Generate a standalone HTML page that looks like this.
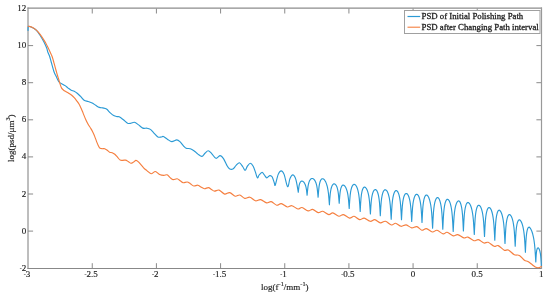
<!DOCTYPE html>
<html><head><meta charset="utf-8"><style>
html,body{margin:0;padding:0;background:#fff;}
body{width:550px;height:297px;overflow:hidden;}
svg{display:block;}
text{font-family:"Liberation Serif",serif;font-size:9px;fill:#222;stroke:#222;stroke-width:0.15px;}
</style></head><body>
<svg width="550" height="297" viewBox="0 0 550 297">
<rect width="550" height="297" fill="#fff"/>

<g stroke="#8a8a8a" stroke-width="1" fill="none">
<line x1="92.26" y1="268.2" x2="92.26" y2="263.2"/>
<line x1="92.26" y1="8.5" x2="92.26" y2="13.5"/>
<line x1="156.42" y1="268.2" x2="156.42" y2="263.2"/>
<line x1="156.42" y1="8.5" x2="156.42" y2="13.5"/>
<line x1="220.59" y1="268.2" x2="220.59" y2="263.2"/>
<line x1="220.59" y1="8.5" x2="220.59" y2="13.5"/>
<line x1="284.75" y1="268.2" x2="284.75" y2="263.2"/>
<line x1="284.75" y1="8.5" x2="284.75" y2="13.5"/>
<line x1="348.91" y1="268.2" x2="348.91" y2="263.2"/>
<line x1="348.91" y1="8.5" x2="348.91" y2="13.5"/>
<line x1="413.07" y1="268.2" x2="413.07" y2="263.2"/>
<line x1="413.07" y1="8.5" x2="413.07" y2="13.5"/>
<line x1="477.24" y1="268.2" x2="477.24" y2="263.2"/>
<line x1="477.24" y1="8.5" x2="477.24" y2="13.5"/>
<line x1="28.1" y1="45.6" x2="33.1" y2="45.6"/>
<line x1="541.4" y1="45.6" x2="536.4" y2="45.6"/>
<line x1="28.1" y1="82.7" x2="33.1" y2="82.7"/>
<line x1="541.4" y1="82.7" x2="536.4" y2="82.7"/>
<line x1="28.1" y1="119.8" x2="33.1" y2="119.8"/>
<line x1="541.4" y1="119.8" x2="536.4" y2="119.8"/>
<line x1="28.1" y1="156.9" x2="33.1" y2="156.9"/>
<line x1="541.4" y1="156.9" x2="536.4" y2="156.9"/>
<line x1="28.1" y1="194.0" x2="33.1" y2="194.0"/>
<line x1="541.4" y1="194.0" x2="536.4" y2="194.0"/>
<line x1="28.1" y1="231.1" x2="33.1" y2="231.1"/>
<line x1="541.4" y1="231.1" x2="536.4" y2="231.1"/>
</g>
<line x1="28" y1="7.5" x2="28" y2="269" stroke="#7c7c7c" stroke-width="1"/>
<line x1="27.5" y1="268.5" x2="542" y2="268.5" stroke="#888" stroke-width="1"/>
<line x1="27.5" y1="8.1" x2="542" y2="8.1" stroke="#8c8c8c" stroke-width="1.3"/>
<line x1="541.5" y1="7.5" x2="541.5" y2="269" stroke="#999" stroke-width="1.2"/>
<g fill="none" stroke-linejoin="round" stroke-linecap="round">
<path d="M28.00 30.50 C28.07 29.83 27.88 27.08 28.40 26.50 C28.92 25.92 30.15 26.65 31.10 27.00 C32.05 27.35 33.10 27.92 34.10 28.60 C35.10 29.28 36.17 30.08 37.10 31.10 C38.03 32.12 38.83 33.38 39.70 34.70 C40.57 36.02 41.45 37.50 42.30 39.00 C43.15 40.50 44.05 42.15 44.80 43.70 C45.55 45.25 46.30 46.92 46.80 48.30 C47.30 49.68 47.35 50.72 47.80 52.00 C48.25 53.28 48.93 54.33 49.50 56.00 C50.07 57.67 50.43 59.33 51.20 62.00 C51.97 64.67 53.30 69.67 54.10 72.00 C54.90 74.33 55.42 74.77 56.00 76.00 C56.58 77.23 57.02 78.33 57.60 79.40 C58.18 80.47 58.75 81.65 59.50 82.40 C60.25 83.15 61.17 83.37 62.10 83.90 C63.03 84.43 64.08 84.90 65.10 85.60 C66.12 86.30 67.18 87.33 68.20 88.10 C69.22 88.87 70.20 89.68 71.20 90.20 C72.20 90.72 73.20 90.70 74.20 91.20 C75.20 91.70 76.18 92.37 77.20 93.20 C78.22 94.03 79.15 95.02 80.30 96.20 C81.45 97.38 82.80 99.42 84.10 100.30 C85.40 101.18 86.75 101.05 88.10 101.50 C89.45 101.95 90.93 102.37 92.20 103.00 C93.47 103.63 94.52 104.57 95.70 105.30 C96.88 106.03 98.12 106.97 99.30 107.40 C100.48 107.83 101.60 107.63 102.80 107.90 C104.00 108.17 105.25 108.17 106.50 109.00 C107.75 109.83 109.10 111.80 110.30 112.90 C111.50 114.00 112.58 114.98 113.70 115.60 C114.82 116.22 116.08 116.40 117.00 116.60 C117.92 116.80 118.13 116.27 119.20 116.80 C120.27 117.33 122.00 118.73 123.40 119.80 C124.80 120.87 126.33 122.63 127.60 123.20 C128.87 123.77 129.87 123.35 131.00 123.20 C132.13 123.05 133.13 122.02 134.40 122.30 C135.67 122.58 137.20 123.93 138.60 124.90 C140.00 125.87 141.40 127.55 142.80 128.10 C144.20 128.65 145.73 127.98 147.00 128.20 C148.27 128.42 149.28 128.63 150.40 129.40 C151.52 130.17 152.45 131.53 153.70 132.80 C154.95 134.07 156.63 136.30 157.90 137.00 C159.17 137.70 160.38 137.08 161.30 137.00 C162.22 136.92 162.35 136.10 163.40 136.50 C164.45 136.90 166.20 138.55 167.60 139.40 C169.00 140.25 170.27 141.52 171.80 141.60 C173.33 141.68 175.40 139.85 176.80 139.90 C178.20 139.95 179.07 140.87 180.20 141.90 C181.33 142.93 182.62 145.03 183.60 146.10 C184.58 147.17 184.98 147.87 186.10 148.30 C187.22 148.73 188.90 148.22 190.30 148.70 C191.70 149.18 193.23 150.30 194.50 151.20 C195.77 152.10 196.67 153.23 197.90 154.10 C199.13 154.97 200.72 156.53 201.90 156.40 C203.08 156.27 203.95 154.23 205.00 153.30 C206.05 152.37 207.08 150.75 208.20 150.80 C209.32 150.85 210.42 152.35 211.70 153.60 C212.98 154.85 214.48 157.97 215.90 158.30 C217.32 158.63 218.93 155.55 220.20 155.60 C221.47 155.65 222.38 156.97 223.50 158.60 C224.62 160.23 225.92 163.72 226.90 165.40 C227.88 167.08 228.42 168.08 229.40 168.70 C230.38 169.32 231.68 169.65 232.80 169.10 C233.92 168.55 234.98 166.45 236.10 165.40 C237.22 164.35 238.37 162.53 239.50 162.80 C240.63 163.07 241.95 165.75 242.90 167.00 C243.85 168.25 244.45 170.43 245.20 170.30 C245.95 170.17 246.55 167.38 247.40 166.20 C248.25 165.02 249.33 163.20 250.30 163.20 C251.27 163.20 252.32 164.63 253.20 166.20 C254.08 167.77 254.90 170.65 255.60 172.60 C256.30 174.55 256.82 177.50 257.40 177.90 C257.98 178.30 258.32 175.92 259.10 175.00 C259.88 174.08 261.22 172.40 262.10 172.40 C262.98 172.40 263.62 174.08 264.40 175.00 C265.18 175.92 265.92 177.80 266.80 177.90 C267.68 178.00 268.82 175.78 269.70 175.60 C270.58 175.42 271.32 175.53 272.10 176.80 C272.88 178.07 273.87 181.83 274.40 183.20 C274.93 184.57 274.67 186.47 275.30 185.00 C275.93 183.53 277.22 176.77 278.20 174.40 C279.18 172.03 280.22 170.80 281.20 170.80 C282.18 170.80 283.03 171.75 284.10 174.40 C285.17 177.05 286.62 186.02 287.60 186.70 C288.58 187.38 289.12 180.47 290.00 178.50 C290.88 176.53 291.92 174.72 292.90 174.90 C293.88 175.08 295.00 176.70 295.90 179.60 C296.80 182.50 297.90 190.18 298.30 192.30 L298.67 188.67 L299.03 185.96 L299.40 184.33 L299.77 183.24 L300.13 182.47 L300.50 181.92 L300.87 181.54 L301.23 181.29 L301.60 181.15 L301.97 181.12 L302.33 181.18 L302.70 181.33 L303.07 181.54 L303.43 181.84 L303.80 182.21 L304.17 182.67 L304.53 183.23 L304.90 183.92 L305.27 184.76 L305.63 185.81 L306.00 187.17 L306.37 189.05 L306.73 191.91 L307.10 195.30 L307.56 190.31 L308.02 186.41 L308.48 184.00 L308.93 182.34 L309.39 181.13 L309.85 180.23 L310.31 179.56 L310.77 179.07 L311.23 178.74 L311.68 178.54 L312.14 178.47 L312.60 178.52 L313.06 178.68 L313.52 178.96 L313.98 179.36 L314.43 179.88 L314.89 180.56 L315.35 181.42 L315.81 182.50 L316.27 183.89 L316.73 185.72 L317.18 188.30 L317.64 192.34 L318.10 197.30 L318.57 191.20 L319.04 186.58 L319.51 183.82 L319.98 181.99 L320.45 180.73 L320.93 179.84 L321.40 179.25 L321.87 178.88 L322.34 178.71 L322.81 178.71 L323.28 178.87 L323.75 179.18 L324.22 179.63 L324.69 180.21 L325.16 180.94 L325.63 181.82 L326.10 182.88 L326.57 184.16 L327.05 185.72 L327.52 187.64 L327.99 190.12 L328.46 193.49 L328.93 198.64 L329.40 204.80 L329.81 198.58 L330.22 193.92 L330.62 191.02 L331.03 188.99 L331.44 187.49 L331.85 186.34 L332.26 185.47 L332.67 184.81 L333.07 184.35 L333.48 184.04 L333.89 183.90 L334.30 183.89 L334.71 184.00 L335.12 184.22 L335.52 184.57 L335.93 185.06 L336.34 185.71 L336.75 186.56 L337.16 187.66 L337.57 189.10 L337.97 191.04 L338.38 193.80 L338.79 198.16 L339.20 203.30 L339.62 197.28 L340.03 192.84 L340.45 190.18 L340.87 188.41 L341.28 187.16 L341.70 186.28 L342.12 185.67 L342.53 185.28 L342.95 185.09 L343.37 185.06 L343.78 185.19 L344.20 185.46 L344.62 185.84 L345.03 186.35 L345.45 186.98 L345.87 187.76 L346.28 188.70 L346.70 189.84 L347.12 191.23 L347.53 192.97 L347.95 195.22 L348.37 198.30 L348.78 203.00 L349.20 208.50 L349.66 201.21 L350.12 195.59 L350.57 192.14 L351.03 189.76 L351.49 188.04 L351.95 186.76 L352.41 185.82 L352.87 185.14 L353.32 184.68 L353.78 184.43 L354.24 184.36 L354.70 184.47 L355.16 184.73 L355.62 185.15 L356.07 185.75 L356.53 186.52 L356.99 187.51 L357.45 188.76 L357.91 190.32 L358.37 192.32 L358.82 194.95 L359.28 198.65 L359.74 204.41 L360.20 211.40 L360.62 203.44 L361.05 197.72 L361.47 194.26 L361.90 191.91 L362.32 190.23 L362.75 189.01 L363.18 188.13 L363.60 187.54 L364.02 187.20 L364.45 187.07 L364.88 187.16 L365.30 187.38 L365.72 187.75 L366.15 188.25 L366.57 188.91 L367.00 189.75 L367.42 190.78 L367.85 192.06 L368.27 193.65 L368.70 195.66 L369.12 198.29 L369.55 201.95 L369.97 207.57 L370.40 214.00 L370.81 207.23 L371.22 201.71 L371.64 198.24 L372.05 195.82 L372.46 194.03 L372.88 192.67 L373.29 191.63 L373.70 190.84 L374.11 190.27 L374.52 189.88 L374.94 189.65 L375.35 189.59 L375.76 189.68 L376.18 189.94 L376.59 190.39 L377.00 191.03 L377.41 191.90 L377.82 193.02 L378.24 194.48 L378.65 196.37 L379.06 198.91 L379.48 202.51 L379.89 208.25 L380.30 215.60 L380.75 207.81 L381.21 201.76 L381.66 198.05 L382.12 195.50 L382.57 193.65 L383.02 192.28 L383.48 191.27 L383.93 190.55 L384.39 190.07 L384.84 189.81 L385.30 189.74 L385.75 189.86 L386.20 190.15 L386.66 190.62 L387.11 191.27 L387.57 192.13 L388.02 193.22 L388.48 194.58 L388.93 196.29 L389.38 198.47 L389.84 201.35 L390.29 205.37 L390.75 211.64 L391.20 219.30 L391.63 211.00 L392.06 204.53 L392.49 200.49 L392.92 197.68 L393.35 195.60 L393.77 194.02 L394.20 192.82 L394.63 191.92 L395.06 191.27 L395.49 190.85 L395.92 190.63 L396.35 190.62 L396.78 190.78 L397.21 191.12 L397.64 191.65 L398.07 192.40 L398.50 193.39 L398.93 194.67 L399.35 196.31 L399.78 198.44 L400.21 201.30 L400.64 205.35 L401.07 211.76 L401.50 219.60 L401.93 211.82 L402.35 205.82 L402.77 202.11 L403.20 199.55 L403.62 197.67 L404.05 196.27 L404.48 195.22 L404.90 194.45 L405.32 193.92 L405.75 193.61 L406.18 193.49 L406.60 193.55 L407.02 193.78 L407.45 194.18 L407.88 194.76 L408.30 195.53 L408.72 196.53 L409.15 197.79 L409.57 199.40 L410.00 201.46 L410.43 204.19 L410.85 208.04 L411.27 214.08 L411.70 221.40 L412.13 213.64 L412.56 207.50 L412.99 203.66 L413.42 201.00 L413.85 199.03 L414.27 197.54 L414.70 196.40 L415.13 195.55 L415.56 194.94 L415.99 194.54 L416.42 194.33 L416.85 194.31 L417.28 194.46 L417.71 194.79 L418.14 195.31 L418.57 196.04 L419.00 197.00 L419.43 198.25 L419.85 199.84 L420.28 201.91 L420.71 204.68 L421.14 208.60 L421.57 214.80 L422.00 222.50 L422.44 213.64 L422.88 207.06 L423.32 203.08 L423.77 200.40 L424.21 198.49 L424.65 197.11 L425.09 196.14 L425.53 195.48 L425.98 195.11 L426.42 194.98 L426.86 195.08 L427.30 195.38 L427.74 195.86 L428.18 196.51 L428.62 197.35 L429.07 198.40 L429.51 199.70 L429.95 201.29 L430.39 203.25 L430.83 205.72 L431.28 208.93 L431.72 213.37 L432.16 220.19 L432.60 228.20 L433.03 219.37 L433.45 212.44 L433.88 208.12 L434.30 205.11 L434.73 202.89 L435.15 201.21 L435.58 199.94 L436.00 198.98 L436.43 198.30 L436.85 197.85 L437.28 197.63 L437.70 197.62 L438.12 197.80 L438.55 198.18 L438.98 198.77 L439.40 199.59 L439.82 200.68 L440.25 202.07 L440.68 203.86 L441.10 206.19 L441.53 209.29 L441.95 213.69 L442.38 220.64 L442.80 229.20 L443.23 219.92 L443.67 212.98 L444.10 208.74 L444.53 205.82 L444.97 203.71 L445.40 202.14 L445.83 200.98 L446.27 200.16 L446.70 199.62 L447.13 199.34 L447.57 199.29 L448.00 199.46 L448.43 199.80 L448.87 200.32 L449.30 201.03 L449.73 201.96 L450.17 203.15 L450.60 204.63 L451.03 206.50 L451.47 208.89 L451.90 212.04 L452.33 216.45 L452.77 223.31 L453.20 231.40 L453.62 223.42 L454.05 216.74 L454.47 212.49 L454.90 209.48 L455.32 207.23 L455.75 205.48 L456.18 204.11 L456.60 203.04 L457.02 202.21 L457.45 201.60 L457.88 201.19 L458.30 200.96 L458.72 200.90 L459.15 201.06 L459.57 201.44 L460.00 202.07 L460.42 202.96 L460.85 204.19 L461.27 205.80 L461.70 207.96 L462.12 210.88 L462.55 215.11 L462.97 221.93 L463.40 230.90 L463.85 221.53 L464.31 214.81 L464.76 210.75 L465.22 208.01 L465.67 206.05 L466.12 204.63 L466.58 203.63 L467.03 202.96 L467.49 202.57 L467.94 202.45 L468.40 202.58 L468.85 202.87 L469.30 203.33 L469.76 203.95 L470.21 204.75 L470.67 205.75 L471.12 207.00 L471.57 208.52 L472.03 210.42 L472.48 212.81 L472.94 215.94 L473.39 220.27 L473.85 226.92 L474.30 234.50 L474.73 225.21 L475.15 218.41 L475.57 214.25 L476.00 211.41 L476.43 209.35 L476.85 207.83 L477.28 206.72 L477.70 205.94 L478.12 205.45 L478.55 205.21 L478.98 205.22 L479.40 205.41 L479.82 205.77 L480.25 206.30 L480.68 207.01 L481.10 207.94 L481.52 209.11 L481.95 210.57 L482.38 212.40 L482.80 214.73 L483.23 217.80 L483.65 222.11 L484.07 228.77 L484.50 236.50 L484.93 227.63 L485.36 220.87 L485.79 216.72 L486.22 213.88 L486.65 211.82 L487.07 210.30 L487.50 209.19 L487.93 208.39 L488.36 207.88 L488.79 207.60 L489.22 207.55 L489.65 207.72 L490.08 208.07 L490.51 208.61 L490.94 209.34 L491.37 210.30 L491.80 211.51 L492.23 213.03 L492.65 214.92 L493.08 217.34 L493.51 220.52 L493.94 224.97 L494.37 231.89 L494.80 240.20 L495.23 230.38 L495.65 223.32 L496.07 219.04 L496.50 216.14 L496.93 214.07 L497.35 212.56 L497.78 211.48 L498.20 210.75 L498.62 210.32 L499.05 210.17 L499.48 210.27 L499.90 210.55 L500.32 211.00 L500.75 211.62 L501.18 212.44 L501.60 213.46 L502.02 214.74 L502.45 216.32 L502.88 218.28 L503.30 220.76 L503.73 224.01 L504.15 228.53 L504.57 235.47 L505.00 243.40 L505.43 234.20 L505.85 227.46 L506.27 223.36 L506.70 220.57 L507.12 218.55 L507.55 217.07 L507.98 216.00 L508.40 215.26 L508.83 214.79 L509.25 214.59 L509.68 214.62 L510.10 214.84 L510.53 215.23 L510.95 215.78 L511.38 216.53 L511.80 217.48 L512.23 218.67 L512.65 220.15 L513.08 221.99 L513.50 224.34 L513.93 227.43 L514.35 231.74 L514.78 238.39 L515.20 246.10 L515.62 237.39 L516.05 231.06 L516.48 227.26 L516.90 224.72 L517.33 222.93 L517.75 221.66 L518.18 220.77 L518.60 220.21 L519.02 219.91 L519.45 219.86 L519.88 220.05 L520.30 220.41 L520.73 220.93 L521.15 221.62 L521.58 222.48 L522.00 223.55 L522.42 224.84 L522.85 226.42 L523.27 228.35 L523.70 230.76 L524.12 233.88 L524.55 238.17 L524.98 244.73 L525.40 252.30 L525.83 242.78 L526.27 236.49 L526.70 232.87 L527.13 230.54 L527.57 228.98 L528.00 227.97 L528.43 227.38 L528.87 227.13 L529.30 227.19 L529.73 227.53 L530.17 228.04 L530.60 228.68 L531.03 229.47 L531.47 230.40 L531.90 231.49 L532.33 232.78 L532.77 234.28 L533.20 236.05 L533.63 238.16 L534.07 240.74 L534.50 244.01 L534.93 248.42 L535.37 254.94 L535.80 262.00 L536.03 257.35 L536.27 253.89 L536.50 251.82 L536.73 250.44 L536.97 249.48 L537.20 248.80 L537.43 248.33 L537.67 248.03 L537.90 247.89 L538.13 247.87 L538.37 247.98 L538.60 248.19 L538.83 248.50 L539.07 248.90 L539.30 249.40 L539.53 250.02 L539.77 250.77 L540.00 251.67 L540.23 252.77 L540.47 254.15 L540.70 255.92 L540.93 258.34 L541.17 262.05 L541.40 266.40" stroke="#2b9ad5" stroke-width="1.15"/>
<path d="M28.20 26.30 C28.68 26.40 30.12 26.55 31.10 26.90 C32.08 27.25 33.10 27.75 34.10 28.40 C35.10 29.05 36.13 29.83 37.10 30.80 C38.07 31.77 38.92 32.90 39.90 34.20 C40.88 35.50 42.03 37.13 43.00 38.60 C43.97 40.07 44.87 41.52 45.70 43.00 C46.53 44.48 47.27 46.00 48.00 47.50 C48.73 49.00 49.45 50.58 50.10 52.00 C50.75 53.42 51.38 54.67 51.90 56.00 C52.42 57.33 52.75 58.47 53.20 60.00 C53.65 61.53 54.05 63.20 54.60 65.20 C55.15 67.20 56.02 70.28 56.50 72.00 C56.98 73.72 57.15 74.33 57.50 75.50 C57.85 76.67 58.17 77.57 58.60 79.00 C59.03 80.43 59.60 82.58 60.10 84.10 C60.60 85.62 61.02 87.08 61.60 88.10 C62.18 89.12 62.85 89.60 63.60 90.20 C64.35 90.80 65.25 91.20 66.10 91.70 C66.95 92.20 67.77 92.62 68.70 93.20 C69.63 93.78 70.78 94.45 71.70 95.20 C72.62 95.95 73.37 96.77 74.20 97.70 C75.03 98.63 75.90 99.75 76.70 100.80 C77.50 101.85 78.28 102.78 79.00 104.00 C79.72 105.22 80.32 106.58 81.00 108.10 C81.68 109.62 82.33 111.25 83.10 113.10 C83.87 114.95 84.77 117.35 85.60 119.20 C86.43 121.05 87.28 122.73 88.10 124.20 C88.92 125.67 89.77 126.78 90.50 128.00 C91.23 129.22 91.82 130.15 92.50 131.50 C93.18 132.85 93.92 134.42 94.60 136.10 C95.28 137.78 95.93 139.92 96.60 141.60 C97.27 143.28 98.02 145.10 98.60 146.20 C99.18 147.30 99.43 147.78 100.10 148.20 C100.77 148.62 101.83 148.62 102.60 148.70 C103.37 148.78 103.93 148.45 104.70 148.70 C105.47 148.95 106.37 149.62 107.20 150.20 C108.03 150.78 108.87 151.78 109.70 152.20 C110.53 152.62 111.35 152.35 112.20 152.70 C113.05 153.05 113.92 153.55 114.80 154.30 C115.68 155.05 116.60 156.23 117.50 157.20 C118.40 158.17 119.28 159.58 120.20 160.10 C121.12 160.62 122.12 160.30 123.00 160.30 C123.88 160.30 124.65 159.92 125.50 160.10 C126.35 160.28 127.22 160.88 128.10 161.40 C128.98 161.92 129.90 163.08 130.80 163.20 C131.70 163.32 132.65 162.57 133.50 162.10 C134.35 161.63 135.08 160.43 135.90 160.40 C136.72 160.37 137.12 160.67 138.40 161.90 C139.68 163.13 142.18 166.35 143.60 167.80 C145.02 169.25 145.65 169.62 146.90 170.60 C148.15 171.58 149.68 173.55 151.10 173.70 C152.52 173.85 153.98 171.37 155.40 171.50 C156.82 171.63 158.20 173.85 159.60 174.50 C161.00 175.15 162.55 175.35 163.80 175.40 C165.05 175.45 166.05 174.43 167.10 174.80 C168.15 175.17 169.10 176.80 170.10 177.60 C171.10 178.40 171.93 179.40 173.10 179.60 C174.27 179.80 175.92 178.62 177.10 178.80 C178.28 178.98 179.18 180.05 180.20 180.70 C181.22 181.35 182.03 182.48 183.20 182.70 C184.37 182.92 186.02 181.83 187.20 182.00 C188.38 182.17 189.20 183.03 190.30 183.70 C191.40 184.37 192.55 185.75 193.80 186.00 C195.05 186.25 196.62 185.03 197.80 185.20 C198.98 185.37 199.80 186.42 200.90 187.00 C202.00 187.58 203.15 188.60 204.40 188.70 C205.65 188.80 207.22 187.47 208.40 187.60 C209.58 187.73 210.48 188.92 211.50 189.50 C212.52 190.08 213.23 191.00 214.50 191.10 C215.77 191.20 217.42 189.60 219.10 190.10 C220.78 190.60 222.83 193.68 224.60 194.10 C226.37 194.52 227.92 192.25 229.70 192.60 C231.48 192.95 233.62 195.80 235.30 196.20 C236.98 196.60 238.22 194.63 239.80 195.00 C241.38 195.37 243.12 198.03 244.80 198.40 C246.48 198.77 248.12 196.80 249.90 197.20 C251.68 197.60 253.72 200.40 255.50 200.80 C257.28 201.20 258.75 199.25 260.60 199.60 C262.45 199.95 264.83 202.57 266.60 202.90 C268.37 203.23 269.52 201.22 271.20 201.60 C272.88 201.98 275.02 204.87 276.70 205.20 C278.38 205.53 279.53 203.30 281.30 203.60 C283.07 203.90 285.53 206.65 287.30 207.00 C289.07 207.35 290.13 205.37 291.90 205.70 C293.67 206.03 296.22 208.70 297.90 209.00 C299.58 209.30 300.30 207.18 302.00 207.50 C303.70 207.82 306.33 210.58 308.10 210.90 C309.87 211.22 310.92 209.12 312.60 209.40 C314.28 209.68 316.52 212.28 318.20 212.60 C319.88 212.92 320.93 210.97 322.70 211.30 C324.47 211.63 327.12 214.33 328.80 214.60 C330.48 214.87 331.12 212.63 332.80 212.90 C334.48 213.17 337.13 215.92 338.90 216.20 C340.67 216.48 341.63 214.28 343.40 214.60 C345.17 214.92 347.72 217.82 349.50 218.10 C351.28 218.38 352.42 216.05 354.10 216.30 C355.78 216.55 357.92 219.30 359.60 219.60 C361.28 219.90 362.42 217.82 364.20 218.10 C365.98 218.38 368.53 221.05 370.30 221.30 C372.07 221.55 373.12 219.33 374.80 219.60 C376.48 219.87 378.63 222.62 380.40 222.90 C382.17 223.18 383.55 220.95 385.40 221.30 C387.25 221.65 389.80 224.67 391.50 225.00 C393.20 225.33 394.00 223.08 395.60 223.30 C397.20 223.52 399.33 226.03 401.10 226.30 C402.87 226.57 404.43 224.63 406.20 224.90 C407.97 225.17 409.93 227.62 411.70 227.90 C413.47 228.18 415.12 226.22 416.80 226.60 C418.48 226.98 420.20 229.87 421.80 230.20 C423.40 230.53 424.63 228.30 426.40 228.60 C428.17 228.90 430.63 231.72 432.40 232.00 C434.17 232.28 435.22 229.98 437.00 230.30 C438.78 230.62 441.42 233.57 443.10 233.90 C444.78 234.23 445.42 231.97 447.10 232.30 C448.78 232.63 451.43 235.52 453.20 235.90 C454.97 236.28 455.93 234.27 457.70 234.60 C459.47 234.93 462.12 237.48 463.80 237.90 C465.48 238.32 466.12 236.63 467.80 237.10 C469.48 237.57 472.13 240.28 473.90 240.70 C475.67 241.12 476.72 239.22 478.40 239.60 C480.08 239.98 482.38 242.55 484.00 243.00 C485.62 243.45 486.42 241.75 488.10 242.30 C489.78 242.85 492.42 245.75 494.10 246.30 C495.78 246.85 496.52 244.95 498.20 245.60 C499.88 246.25 502.52 249.47 504.20 250.20 C505.88 250.93 506.62 249.25 508.30 250.00 C509.98 250.75 512.45 253.80 514.30 254.70 C516.15 255.60 517.72 254.47 519.40 255.40 C521.08 256.33 522.98 259.28 524.40 260.30 C525.82 261.32 526.58 260.77 527.90 261.50 C529.22 262.23 530.98 263.73 532.30 264.70 C533.62 265.67 534.63 266.82 535.80 267.30 C536.97 267.78 538.37 267.75 539.30 267.60 C540.23 267.45 541.05 266.60 541.40 266.40" stroke="#f57f3f" stroke-width="1.15"/>
</g>
<g>
<text x="27.0" y="276.5" text-anchor="middle"><tspan dy="-0.7" style="font-size:6px">-</tspan><tspan dy="0.7">3</tspan></text>
<text x="91.2" y="276.5" text-anchor="middle"><tspan dy="-0.7" style="font-size:6px">-</tspan><tspan dy="0.7">2.5</tspan></text>
<text x="155.3" y="276.5" text-anchor="middle"><tspan dy="-0.7" style="font-size:6px">-</tspan><tspan dy="0.7">2</tspan></text>
<text x="219.5" y="276.5" text-anchor="middle"><tspan dy="-0.7" style="font-size:6px">-</tspan><tspan dy="0.7">1.5</tspan></text>
<text x="283.6" y="276.5" text-anchor="middle"><tspan dy="-0.7" style="font-size:6px">-</tspan><tspan dy="0.7">1</tspan></text>
<text x="347.8" y="276.5" text-anchor="middle"><tspan dy="-0.7" style="font-size:6px">-</tspan><tspan dy="0.7">0.5</tspan></text>
<text x="413.0" y="276.5" text-anchor="middle">0</text>
<text x="477.1" y="276.5" text-anchor="middle">0.5</text>
<text x="541.3" y="276.5" text-anchor="middle">1</text>
<text x="26.3" y="11.0" text-anchor="end">12</text>
<text x="26.3" y="48.1" text-anchor="end">10</text>
<text x="26.3" y="85.2" text-anchor="end">8</text>
<text x="26.3" y="122.3" text-anchor="end">6</text>
<text x="26.3" y="159.4" text-anchor="end">4</text>
<text x="26.3" y="196.5" text-anchor="end">2</text>
<text x="26.3" y="233.6" text-anchor="end">0</text>
<text x="26.3" y="270.7" text-anchor="end"><tspan dy="-0.7" style="font-size:6px">-</tspan><tspan dy="0.7">2</tspan></text>
</g>
<text x="284.8" y="290" text-anchor="middle" style="font-size:9px">log(f<tspan dy="-4.2" style="font-size:6.3px">-1</tspan><tspan dy="4.2">/mm</tspan><tspan dy="-4.2" style="font-size:6.3px">-1</tspan><tspan dy="4.2">)</tspan></text>
<text transform="translate(13.7 138.2) rotate(-90)" text-anchor="middle" style="font-size:9px">log(psd/μm<tspan dy="-4.2" style="font-size:6.3px">3</tspan><tspan dy="4.2">)</tspan></text>
<g>
<rect x="404.5" y="10.5" width="135.5" height="23" fill="#fff" stroke="#a0a0a0" stroke-width="1"/>
<line x1="407.5" y1="16.5" x2="420.2" y2="16.5" stroke="#2b9ad5" stroke-width="1.2"/>
<line x1="407.5" y1="27.2" x2="420.2" y2="27.2" stroke="#f57f3f" stroke-width="1.1"/>
<text x="421.6" y="19.3" style="font-size:8.75px;stroke-width:0.3px">PSD of Initial Polishing Path</text>
<text x="421.6" y="29.8" style="font-size:8.75px;stroke-width:0.3px">PSD after Changing Path interval</text>
</g>
</svg>
</body></html>
